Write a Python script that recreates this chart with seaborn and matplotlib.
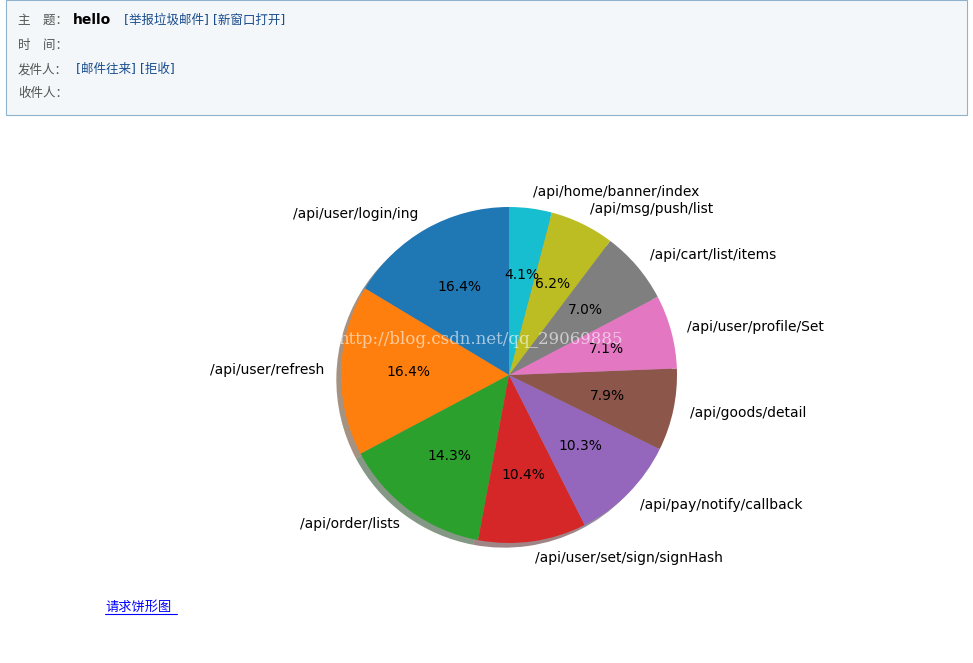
import matplotlib
matplotlib.use("Agg")
import matplotlib.pyplot as plt
import seaborn as sns
from matplotlib.patches import Rectangle

sns.set_theme(style="white")
plt.rcParams["font.family"] = ["DejaVu Sans", "Noto Sans CJK SC"]

labels = ["/api/user/login/ing", "/api/user/refresh", "/api/order/lists", "/api/user/set/sign/signHash",
          "/api/pay/notify/callback", "/api/goods/detail", "/api/user/profile/Set",
          "/api/cart/list/items", "/api/msg/push/list", "/api/home/banner/index"]
sizes = [16.4, 16.4, 14.3, 10.4, 10.3, 7.9, 7.1, 7.0, 6.2, 4.1]
colors = sns.color_palette("tab10", 10)

W, H = 973, 663
fig = plt.figure(figsize=(W/100, H/100), dpi=100)

# header
fig.patches.append(Rectangle((6/W, 1-115/H), (W-12)/W, 115/H, transform=fig.transFigure,
                             facecolor="#f3f7fa", edgecolor="#8fb3cc", lw=0.8))
def t(x, y, s, **kw):
    fig.text(x/W, 1-y/H, s, va="center", **kw)
gray = "#555555"
t(18, 20, "主　题：", fontsize=9, color=gray)
t(73, 20, "hello", fontsize=10, fontweight="bold", color="black")
t(124, 20, "[举报垃圾邮件] [新窗口打开]", fontsize=9, color="#1a4d8f")
t(18, 45, "时　间：", fontsize=9, color=gray)
t(18, 70, "发件人：", fontsize=9, color=gray)
t(76, 70, "[邮件往来] [拒收]", fontsize=9, color="#1a4d8f")
t(18, 94, "收件人：", fontsize=9, color=gray)

cx, cy, r = 509, 375, 168
ax = fig.add_axes([(cx-r)/W, (H-cy-r)/H, 2*r/W, 2*r/H])
ax.pie(sizes, labels=labels, colors=colors, autopct="%1.1f%%", startangle=90,
       shadow=True, textprops={"fontsize": 10, "color": "black"},
       wedgeprops={"linewidth": 0})
ax.set_xlim(-1, 1); ax.set_ylim(-1, 1); ax.set_aspect("equal")
ax.axis("off")

t(338, 340, "http://blog.csdn.net/qq_29069885", fontsize=12, color="white", alpha=0.6, family="DejaVu Serif")
t(105, 607, "请求饼形图", fontsize=9.5, color="blue")
fig.add_artist(plt.Line2D([105/W, 177/W], [1-614/H]*2, color="blue", lw=0.8))

fig.savefig("out.png", dpi=100)
